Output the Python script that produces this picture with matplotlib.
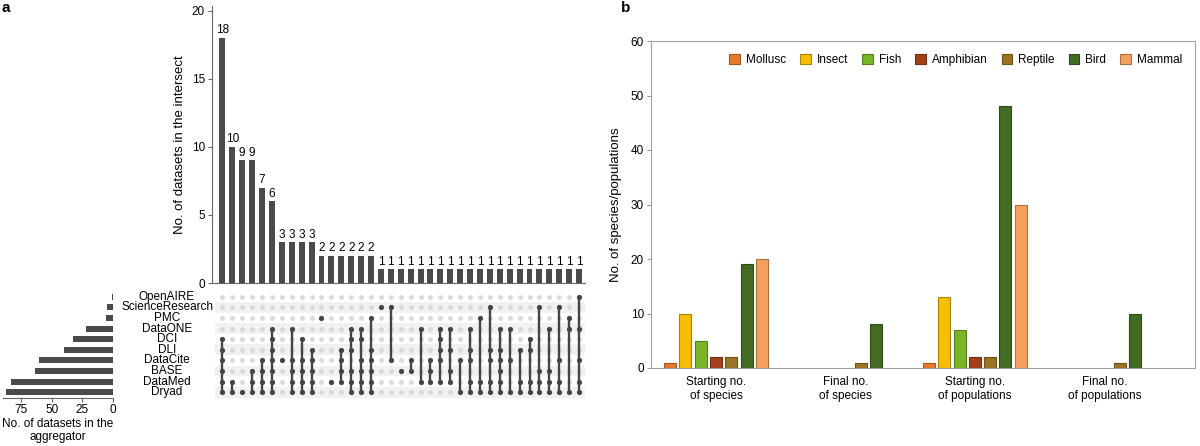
import matplotlib.pyplot as plt
import matplotlib.transforms as mtransforms
from matplotlib.patches import Patch
import numpy as np

plt.rcParams['font.family'] = ['Liberation Sans', 'DejaVu Sans']
plt.rcParams['font.size'] = 8.5

# -------- panel a data -------- #
set_names = ['OpenAIRE', 'ScienceResearch', 'PMC', 'DataONE', 'DCI',
             'DLI', 'DataCite', 'BASE', 'DataMed', 'Dryad']
intersect_counts = [18, 10, 9, 9, 7, 6, 3, 3, 3, 3,
                    2, 2, 2, 2, 2, 2,
                    1, 1, 1, 1, 1, 1, 1, 1, 1, 1, 1, 1, 1, 1, 1, 1, 1, 1, 1, 1, 1]
# members of each intersection, as index into set_names
intersect_members = [
    (4, 5, 6, 7, 8, 9), (8, 9), (9,), (7, 8, 9), (6, 7, 8, 9),
    (3, 4, 5, 6, 7, 8, 9), (6,), (3, 6, 7, 8, 9), (4, 6, 7, 8, 9), (5, 6, 7, 8, 9),
    (2,), (8,), (5, 6, 7, 8), (3, 4, 5, 7, 8, 9), (3, 4, 6, 7, 8, 9),
    (2, 5, 6, 7, 8, 9), (1,), (1, 6), (7,), (6, 7),
    (3, 8), (6, 7, 8), (3, 4, 5, 6, 8), (3, 5, 7, 8), (6, 9),
    (3, 5, 6, 8, 9), (2, 8, 9), (1, 5, 6, 8, 9), (3, 5, 6, 7, 8, 9), (3, 6, 9),
    (5, 8, 9), (4, 5, 8, 9), (1, 7, 8, 9), (3, 7, 8, 9), (1, 6, 8, 9),
    (2, 3, 9), (0, 3, 6, 8, 9),
]

# -------- panel b data -------- #
species = ['Mollusc', 'Insect', 'Fish', 'Amphibian', 'Reptile', 'Bird', 'Mammal']
species_colors = ['#e8792b', '#f7bd00', '#7ab526', '#a3401a', '#9b7423', '#446b24', '#f5a05c']
group_labels = ['Starting no.\nof species', 'Final no.\nof species',
                'Starting no.\nof populations', 'Final no.\nof populations']
start_species = [1, 10, 5, 2, 2, 19, 20]
final_species = [0, 0, 0, 0, 1, 8, 0]
start_pops = [1, 13, 7, 2, 2, 48, 30]
final_pops = [0, 0, 0, 0, 1, 10, 0]
groups = [start_species, final_species, start_pops, final_pops]

W, H = 1200, 446
fig = plt.figure(figsize=(W / 100, H / 100), dpi=100)


def px_axes(x0, y0, x1, y1):
    return fig.add_axes([x0 / W, 1 - y1 / H, (x1 - x0) / W, (y1 - y0) / H])


def darker(c):
    return tuple(v * 0.7 for v in plt.matplotlib.colors.to_rgb(c))


dark = '#4a4a4a'
ax_bar = px_axes(212, 6, 585, 283)
ax_mat = px_axes(212, 291.5, 585, 397.5)
ax_set = px_axes(3, 291.5, 113, 397.5)
ax_b = px_axes(651, 41, 1195, 368)

# intersection bars
cols = np.arange(len(intersect_counts))
ax_bar.bar(cols, intersect_counts, width=0.6, color=dark)
for x, v in zip(cols, intersect_counts):
    ax_bar.text(x, v + 0.12, str(v), ha='center', va='bottom', fontsize=8.5)
ax_bar.set_xlim(-1.05, 36.6)
ax_bar.set_ylim(0, 20.35)
ax_bar.set_xticks([])
ax_bar.set_yticks([0, 5, 10, 15, 20])
ax_bar.tick_params(axis='y', length=3, color='#666666', labelsize=8.5, pad=2)
for s in ['top', 'right']:
    ax_bar.spines[s].set_visible(False)
for s in ['left', 'bottom']:
    ax_bar.spines[s].set_color('#666666')
ax_bar.set_ylabel('No. of datasets in the intersect', fontsize=9.5, labelpad=4)

# matrix
n_sets = len(set_names)
ax_mat.set_xlim(-1.05, 36.6)
ax_mat.set_ylim(n_sets - 0.5, -0.5)
ax_mat.axis('off')
for r in range(1, n_sets, 2):
    ax_mat.axhspan(r - 0.5, r + 0.5, xmin=0.008, color='#f1f1f1', zorder=0, lw=0)
gx, gy = np.meshgrid(cols, np.arange(n_sets))
ax_mat.scatter(gx.ravel(), gy.ravel(), s=12, color='#d9d9d9', lw=0, zorder=1)
for x, mem in zip(cols, intersect_members):
    ax_mat.vlines(x, min(mem), max(mem), color='#444444', lw=1.7, zorder=2)
    ax_mat.scatter([x] * len(mem), mem, s=14, color='#444444', lw=0, zorder=3)

trans = mtransforms.blended_transform_factory(fig.transFigure, ax_mat.transData)
for r, name in enumerate(set_names):
    ax_mat.text(167 / W, r, name, transform=trans, ha='center', va='center',
                fontsize=8.5, clip_on=False)

# set size bars
set_sizes = [sum(c for c, m in zip(intersect_counts, intersect_members) if r in m)
             for r in range(n_sets)]
ax_set.barh(np.arange(n_sets), set_sizes, height=0.55, color=dark)
ax_set.set_xlim(89.7, 0)
ax_set.set_ylim(n_sets - 0.5, -0.5)
ax_set.set_yticks([])
ax_set.set_xticks([0, 25, 50, 75])
ax_set.tick_params(axis='x', length=3, color='#666666', labelsize=8.5, pad=2)
for s in ['top', 'right', 'left']:
    ax_set.spines[s].set_visible(False)
ax_set.spines['bottom'].set_color('#666666')
ax_set.set_xlabel('No. of datasets in the\naggregator', fontsize=8.5, labelpad=1,
                  linespacing=1.15)

# panel b
step, bw = 0.118, 0.093
for j, (sp, c) in enumerate(zip(species, species_colors)):
    for i, g in enumerate(groups):
        if g[j] > 0:
            ax_b.bar(i + (j - 3) * step, g[j], width=bw, color=c,
                     edgecolor=darker(c), lw=0.8)
ax_b.set_xlim(-0.502, 3.7)
ax_b.set_ylim(0, 60)
ax_b.set_yticks(range(0, 61, 10))
ax_b.set_xticks(range(len(group_labels)))
ax_b.set_xticklabels(group_labels, fontsize=8.5)
ax_b.tick_params(axis='x', length=0, pad=6)
ax_b.tick_params(axis='y', length=3, color='#999999', labelsize=8.5, pad=2)
for s in ax_b.spines.values():
    s.set_color('#a0a0a0')
ax_b.set_ylabel('No. of species/populations', fontsize=9.5, labelpad=6)

handles = [Patch(facecolor=c, edgecolor=darker(c), lw=0.8) for c in species_colors]
ax_b.legend(handles, species, ncol=7, loc='upper right', bbox_to_anchor=(0.985, 0.975),
            frameon=False, fontsize=8.5, handlelength=0.9, handleheight=0.9,
            handletextpad=0.5, columnspacing=1.2, borderaxespad=0)

fig.text(2 / W, 1 - 12 / H, 'a', fontsize=11, weight='bold')
fig.text(621 / W, 1 - 12 / H, 'b', fontsize=11, weight='bold')

fig.savefig('out.png', dpi=100)
